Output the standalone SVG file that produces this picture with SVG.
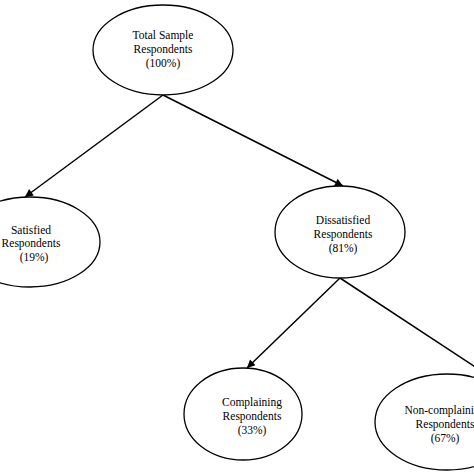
<svg xmlns="http://www.w3.org/2000/svg" width="474" height="474" viewBox="0 0 474 474">
<defs>
<marker id="arr" viewBox="0 0 10 10" refX="10" refY="5" markerWidth="10" markerHeight="8" markerUnits="userSpaceOnUse" orient="auto">
<path d="M0,0 L10,5 L0,10 z" fill="#000"/>
</marker>
<style>
.n ellipse{fill:#fff;stroke:#000;stroke-width:1.3}
.n text{font-family:"Liberation Serif","Times New Roman",serif;font-size:11.5px;fill:#000;text-anchor:middle}
.c line{stroke:#000;stroke-width:1.5;marker-end:url(#arr)}
</style>
</defs>
<rect width="474" height="474" fill="#fff"/>
<g id="connectors" class="c">
<line x1="163" y1="95" x2="25" y2="197"/>
<line x1="163" y1="95" x2="343" y2="186"/>
<line x1="340" y1="278" x2="247" y2="368"/>
<line x1="340" y1="278" x2="492" y2="378"/>
</g>
<g id="total" class="n">
<ellipse cx="163" cy="50" rx="70" ry="45"/>
<text x="163" y="39">Total Sample</text>
<text x="163" y="53">Respondents</text>
<text x="163" y="67">(100%)</text>
</g>
<g id="satisfied" class="n">
<ellipse cx="30" cy="242" rx="70" ry="45"/>
<text x="31" y="234">Satisfied</text>
<text x="31" y="247">Respondents</text>
<text x="34" y="261">(19%)</text>
</g>
<g id="dissatisfied" class="n">
<ellipse cx="340" cy="232" rx="65" ry="46"/>
<text x="343" y="224">Dissatisfied</text>
<text x="343" y="238">Respondents</text>
<text x="343" y="252">(81%)</text>
</g>
<g id="complaining" class="n">
<ellipse cx="243" cy="414" rx="59" ry="46"/>
<text x="252" y="406">Complaining</text>
<text x="252" y="420">Respondents</text>
<text x="252" y="434">(33%)</text>
</g>
<g id="noncomplaining" class="n">
<ellipse cx="447" cy="422" rx="72" ry="48"/>
<text x="445" y="414">Non-complaining</text>
<text x="445" y="428">Respondents</text>
<text x="445" y="442">(67%)</text>
</g>
</svg>
